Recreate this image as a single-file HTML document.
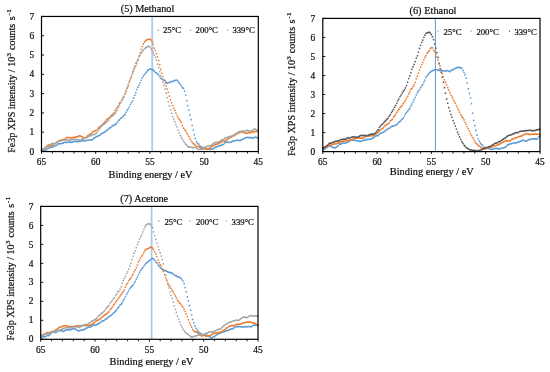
<!DOCTYPE html>
<html lang="en"><head><meta charset="utf-8"><title>Fe3p XPS spectra</title>
<style>html,body{margin:0;padding:0;background:#fff;}body{width:550px;height:372px;overflow:hidden;}svg{display:block;}text{stroke:#111;stroke-width:.22px;}</style>
</head><body>
<svg width="550" height="372" viewBox="0 0 550 372" font-family="'Liberation Serif', serif" fill="#111">
<rect width="550" height="372" fill="#fff"/>
<g>
<line x1="152.2" x2="152.2" y1="16.45" y2="151.5" stroke="#a8cbea" stroke-width="1.8"/>
<path d="M41.5 150.2h0M42.6 150.4h0M43.7 150.0h0M44.8 149.8h0M45.8 150.1h0M46.9 149.0h0M48.0 148.4h0M49.1 148.0h0M50.2 147.3h0M51.3 147.2h0M52.3 147.1h0M53.4 146.4h0M54.5 146.1h0M55.6 145.6h0M56.7 145.3h0M57.8 144.2h0M58.8 143.6h0M59.9 143.8h0M61.0 143.6h0M62.1 143.4h0M63.2 143.2h0M64.3 142.4h0M65.3 142.3h0M66.4 142.3h0M67.5 142.2h0M68.6 142.3h0M69.7 141.9h0M70.8 142.4h0M71.9 142.2h0M72.9 141.9h0M74.0 141.6h0M75.1 141.0h0M76.2 141.6h0M77.3 141.5h0M78.4 141.6h0M79.4 141.2h0M80.5 141.3h0M81.6 140.5h0M82.7 140.8h0M83.8 140.7h0M84.9 140.9h0M85.9 140.8h0M87.0 140.3h0M88.1 140.0h0M89.2 140.0h0M90.3 139.9h0M91.4 139.9h0M92.4 139.5h0M93.5 138.6h0M94.6 137.8h0M95.7 137.2h0M96.8 136.5h0M97.9 135.9h0M99.0 135.7h0M100.0 135.2h0M101.1 134.2h0M102.2 133.0h0M103.3 132.8h0M104.4 132.2h0M105.5 131.5h0M106.5 130.3h0M107.6 130.0h0M108.7 128.7h0M109.8 127.8h0M110.9 127.5h0M112.0 126.2h0M113.0 125.6h0M114.1 125.1h0M115.2 124.3h0M116.3 123.7h0M117.4 122.2h0M118.5 120.3h0M119.5 119.8h0M120.6 118.3h0M121.7 117.8h0M122.8 116.6h0M123.9 115.5h0M125.0 114.4h0M126.1 112.3h0M127.1 110.4h0M128.2 108.8h0M129.3 106.8h0M130.4 104.4h0M131.5 102.6h0M132.6 100.8h0M133.6 98.2h0M134.7 95.2h0M135.8 92.6h0M136.9 89.6h0M138.0 87.1h0M139.1 85.0h0M140.1 82.8h0M141.2 80.3h0M142.3 77.9h0M143.4 76.0h0M144.5 74.5h0M145.6 73.0h0M146.6 71.8h0M147.7 70.4h0M148.8 69.5h0M149.9 68.9h0M151.0 69.1h0M152.1 69.5h0M153.2 69.9h0M154.2 71.2h0M155.3 72.3h0M156.4 72.9h0M157.5 74.1h0M158.6 74.7h0M159.7 76.6h0M160.7 78.2h0M161.8 78.9h0M162.9 79.6h0M164.0 80.3h0M165.1 80.6h0M166.2 82.0h0M167.2 83.3h0M168.3 82.7h0M169.4 82.6h0M170.5 81.5h0M171.6 81.6h0M172.7 81.6h0M173.7 80.7h0M174.8 80.7h0M175.9 80.1h0M177.0 80.1h0M178.1 81.5h0M179.2 82.8h0M180.3 84.3h0M181.3 85.8h0M182.4 87.5h0M183.5 88.3h0M184.6 91.0h0M185.7 95.1h0M186.8 100.5h0M187.8 105.5h0M188.9 110.0h0M190.0 114.9h0M191.1 119.7h0M192.2 125.3h0M193.3 130.1h0M194.3 134.7h0M195.4 138.4h0M196.5 141.7h0M197.6 143.3h0M198.7 144.2h0M199.8 145.9h0M200.8 146.7h0M201.9 147.5h0M203.0 147.6h0M204.1 148.2h0M205.2 148.9h0M206.3 148.7h0M207.4 148.9h0M208.4 148.8h0M209.5 149.3h0M210.6 148.9h0M211.7 149.1h0M212.8 148.8h0M213.9 148.4h0M214.9 147.7h0M216.0 146.9h0M217.1 146.7h0M218.2 146.1h0M219.3 145.9h0M220.4 145.5h0M221.4 145.2h0M222.5 144.7h0M223.6 144.3h0M224.7 142.9h0M225.8 142.2h0M226.9 142.2h0M227.9 142.2h0M229.0 142.4h0M230.1 142.3h0M231.2 142.1h0M232.3 141.3h0M233.4 141.1h0M234.5 140.8h0M235.5 140.6h0M236.6 140.3h0M237.7 140.0h0M238.8 140.3h0M239.9 140.7h0M241.0 140.1h0M242.0 139.6h0M243.1 139.0h0M244.2 138.4h0M245.3 137.8h0M246.4 137.5h0M247.5 137.3h0M248.5 137.7h0M249.6 137.4h0M250.7 137.9h0M251.8 137.6h0M252.9 138.3h0M254.0 137.4h0M255.0 137.0h0M256.1 137.3h0M257.2 137.7h0M258.3 138.6h0" stroke="#5b9bd5" stroke-width="1.75" stroke-linecap="round" fill="none"/>
<path d="M41.5 150.6h0M42.6 149.8h0M43.7 149.1h0M44.8 148.2h0M45.8 147.4h0M46.9 146.5h0M48.0 146.4h0M49.1 146.0h0M50.2 145.6h0M51.3 145.5h0M52.3 145.2h0M53.4 144.5h0M54.5 143.8h0M55.6 143.2h0M56.7 142.1h0M57.8 141.5h0M58.8 140.8h0M59.9 140.4h0M61.0 140.0h0M62.1 139.8h0M63.2 139.4h0M64.3 139.5h0M65.3 138.7h0M66.4 137.8h0M67.5 137.3h0M68.6 137.3h0M69.7 137.8h0M70.8 137.6h0M71.9 137.8h0M72.9 137.3h0M74.0 137.4h0M75.1 137.2h0M76.2 136.8h0M77.3 136.9h0M78.4 136.0h0M79.4 135.9h0M80.5 136.0h0M81.6 136.3h0M82.7 137.0h0M83.8 138.1h0M84.9 137.9h0M85.9 137.6h0M87.0 136.4h0M88.1 135.3h0M89.2 134.8h0M90.3 134.2h0M91.4 133.5h0M92.4 132.2h0M93.5 131.4h0M94.6 130.9h0M95.7 130.5h0M96.8 130.1h0M97.9 128.3h0M99.0 127.6h0M100.0 126.6h0M101.1 125.5h0M102.2 125.0h0M103.3 123.4h0M104.4 122.3h0M105.5 121.0h0M106.5 119.6h0M107.6 118.8h0M108.7 118.3h0M109.8 117.0h0M110.9 115.8h0M112.0 114.9h0M113.0 114.0h0M114.1 112.5h0M115.2 110.4h0M116.3 108.7h0M117.4 107.1h0M118.5 105.7h0M119.5 103.2h0M120.6 102.3h0M121.7 100.1h0M122.8 97.8h0M123.9 96.4h0M125.0 94.1h0M126.1 91.9h0M127.1 88.6h0M128.2 86.1h0M129.3 82.6h0M130.4 79.8h0M131.5 77.0h0M132.6 73.4h0M133.6 70.9h0M134.7 68.2h0M135.8 65.9h0M136.9 63.6h0M138.0 60.2h0M139.1 55.8h0M140.1 52.5h0M141.2 49.3h0M142.3 46.4h0M143.4 43.9h0M144.5 41.8h0M145.6 40.8h0M146.6 39.8h0M147.7 39.3h0M148.8 39.4h0M149.9 39.1h0M151.0 39.9h0M152.1 41.7h0M153.2 44.1h0M154.2 48.2h0M155.3 50.5h0M156.4 53.5h0M157.5 56.7h0M158.6 60.5h0M159.7 64.5h0M160.7 69.4h0M161.8 73.3h0M162.9 76.5h0M164.0 80.1h0M165.1 83.0h0M166.2 86.1h0M167.2 89.1h0M168.3 92.3h0M169.4 96.1h0M170.5 99.5h0M171.6 102.6h0M172.7 105.6h0M173.7 108.3h0M174.8 110.3h0M175.9 113.2h0M177.0 115.6h0M178.1 117.7h0M179.2 119.3h0M180.3 120.9h0M181.3 122.6h0M182.4 125.6h0M183.5 128.1h0M184.6 129.7h0M185.7 131.1h0M186.8 133.0h0M187.8 134.5h0M188.9 136.6h0M190.0 138.7h0M191.1 140.5h0M192.2 142.3h0M193.3 143.5h0M194.3 144.1h0M195.4 145.2h0M196.5 146.5h0M197.6 146.4h0M198.7 146.7h0M199.8 147.1h0M200.8 148.1h0M201.9 149.0h0M203.0 148.9h0M204.1 148.7h0M205.2 148.5h0M206.3 148.9h0M207.4 149.3h0M208.4 148.7h0M209.5 148.4h0M210.6 147.4h0M211.7 146.6h0M212.8 145.9h0M213.9 145.3h0M214.9 144.7h0M216.0 144.0h0M217.1 144.1h0M218.2 143.5h0M219.3 143.1h0M220.4 142.5h0M221.4 141.6h0M222.5 141.5h0M223.6 140.9h0M224.7 141.1h0M225.8 140.5h0M226.9 139.9h0M227.9 138.8h0M229.0 138.3h0M230.1 137.3h0M231.2 137.1h0M232.3 136.3h0M233.4 135.7h0M234.5 135.4h0M235.5 134.5h0M236.6 134.1h0M237.7 133.1h0M238.8 132.8h0M239.9 132.7h0M241.0 131.7h0M242.0 131.9h0M243.1 132.3h0M244.2 132.6h0M245.3 133.1h0M246.4 133.0h0M247.5 133.3h0M248.5 132.7h0M249.6 132.6h0M250.7 132.7h0M251.8 132.3h0M252.9 131.9h0M254.0 132.0h0M255.0 131.6h0M256.1 131.4h0M257.2 131.3h0M258.3 131.0h0" stroke="#ed7d31" stroke-width="1.75" stroke-linecap="round" fill="none"/>
<path d="M41.5 150.6h0M42.6 149.3h0M43.7 148.7h0M44.8 148.0h0M45.8 146.8h0M46.9 145.9h0M48.0 145.1h0M49.1 144.6h0M50.2 144.6h0M51.3 143.8h0M52.3 143.4h0M53.4 143.3h0M54.5 143.8h0M55.6 143.2h0M56.7 142.4h0M57.8 141.9h0M58.8 141.2h0M59.9 140.8h0M61.0 140.9h0M62.1 140.4h0M63.2 140.1h0M64.3 139.9h0M65.3 139.9h0M66.4 140.1h0M67.5 139.8h0M68.6 140.0h0M69.7 140.0h0M70.8 139.6h0M71.9 139.8h0M72.9 139.4h0M74.0 139.1h0M75.1 139.4h0M76.2 139.7h0M77.3 139.7h0M78.4 139.7h0M79.4 140.1h0M80.5 140.0h0M81.6 139.2h0M82.7 138.9h0M83.8 138.8h0M84.9 138.3h0M85.9 137.6h0M87.0 137.4h0M88.1 136.6h0M89.2 136.2h0M90.3 135.5h0M91.4 135.4h0M92.4 134.7h0M93.5 134.3h0M94.6 134.6h0M95.7 133.7h0M96.8 132.8h0M97.9 131.1h0M99.0 129.4h0M100.0 128.0h0M101.1 126.7h0M102.2 125.4h0M103.3 124.6h0M104.4 123.8h0M105.5 123.1h0M106.5 122.1h0M107.6 121.1h0M108.7 119.9h0M109.8 118.2h0M110.9 116.9h0M112.0 116.1h0M113.0 115.5h0M114.1 114.4h0M115.2 113.6h0M116.3 111.8h0M117.4 110.0h0M118.5 107.4h0M119.5 104.9h0M120.6 102.8h0M121.7 100.7h0M122.8 99.1h0M123.9 96.8h0M125.0 93.3h0M126.1 90.4h0M127.1 87.4h0M128.2 84.5h0M129.3 81.2h0M130.4 78.0h0M131.5 75.1h0M132.6 71.9h0M133.6 68.9h0M134.7 66.3h0M135.8 63.2h0M136.9 61.5h0M138.0 59.2h0M139.1 56.8h0M140.1 55.0h0M141.2 53.2h0M142.3 51.7h0M143.4 50.2h0M144.5 48.6h0M145.6 47.9h0M146.6 46.9h0M147.7 46.5h0M148.8 46.1h0M149.9 47.0h0M151.0 48.9h0M152.1 50.7h0M153.2 52.9h0M154.2 55.0h0M155.3 57.3h0M156.4 60.1h0M157.5 64.2h0M158.6 67.4h0M159.7 71.5h0M160.7 75.5h0M161.8 79.0h0M162.9 82.1h0M164.0 85.2h0M165.1 89.1h0M166.2 93.2h0M167.2 97.6h0M168.3 101.5h0M169.4 105.9h0M170.5 109.8h0M171.6 113.3h0M172.7 116.6h0M173.7 119.1h0M174.8 121.7h0M175.9 124.3h0M177.0 126.8h0M178.1 130.0h0M179.2 133.1h0M180.3 135.4h0M181.3 137.4h0M182.4 139.2h0M183.5 141.0h0M184.6 142.6h0M185.7 144.2h0M186.8 145.3h0M187.8 146.3h0M188.9 147.2h0M190.0 147.1h0M191.1 147.2h0M192.2 147.5h0M193.3 147.4h0M194.3 147.3h0M195.4 147.7h0M196.5 148.0h0M197.6 148.8h0M198.7 149.3h0M199.8 149.5h0M200.8 149.1h0M201.9 149.0h0M203.0 148.5h0M204.1 148.4h0M205.2 147.2h0M206.3 146.5h0M207.4 146.3h0M208.4 146.2h0M209.5 145.8h0M210.6 145.6h0M211.7 144.9h0M212.8 144.0h0M213.9 143.2h0M214.9 142.4h0M216.0 142.6h0M217.1 142.0h0M218.2 142.3h0M219.3 141.7h0M220.4 141.0h0M221.4 140.0h0M222.5 139.6h0M223.6 139.4h0M224.7 138.3h0M225.8 137.9h0M226.9 137.6h0M227.9 137.0h0M229.0 136.6h0M230.1 136.3h0M231.2 136.2h0M232.3 136.4h0M233.4 135.0h0M234.5 134.7h0M235.5 134.0h0M236.6 133.2h0M237.7 132.8h0M238.8 131.7h0M239.9 131.3h0M241.0 131.3h0M242.0 131.2h0M243.1 131.2h0M244.2 131.1h0M245.3 130.7h0M246.4 130.8h0M247.5 130.3h0M248.5 130.9h0M249.6 131.1h0M250.7 130.9h0M251.8 131.1h0M252.9 130.1h0M254.0 129.2h0M255.0 129.2h0M256.1 129.7h0M257.2 130.2h0M258.3 130.9h0" stroke="#a5a5a5" stroke-width="1.75" stroke-linecap="round" fill="none"/>
<rect x="41.5" y="16.45" width="216.8" height="135.1" fill="none" stroke="#000" stroke-width="1.2"/>
<path d="M41.50 151.5v2.4M52.34 151.5v2.0M63.18 151.5v2.0M74.02 151.5v2.0M84.86 151.5v2.0M95.70 151.5v2.4M106.54 151.5v2.0M117.38 151.5v2.0M128.22 151.5v2.0M139.06 151.5v2.0M149.90 151.5v2.4M160.74 151.5v2.0M171.58 151.5v2.0M182.42 151.5v2.0M193.26 151.5v2.0M204.10 151.5v2.4M214.94 151.5v2.0M225.78 151.5v2.0M236.62 151.5v2.0M247.46 151.5v2.0M258.30 151.5v2.4M41.5 151.50h2.6M41.5 132.21h2.6M41.5 112.91h2.6M41.5 93.62h2.6M41.5 74.33h2.6M41.5 55.04h2.6M41.5 35.74h2.6M41.5 16.45h2.6" stroke="#000" stroke-width="0.9" fill="none"/>
<text x="41.5" y="164.8" font-size="9.4" text-anchor="middle">65</text>
<text x="95.7" y="164.8" font-size="9.4" text-anchor="middle">60</text>
<text x="149.9" y="164.8" font-size="9.4" text-anchor="middle">55</text>
<text x="204.1" y="164.8" font-size="9.4" text-anchor="middle">50</text>
<text x="258.3" y="164.8" font-size="9.4" text-anchor="middle">45</text>
<text x="34.2" y="154.6" font-size="9.4" text-anchor="end">0</text>
<text x="34.2" y="135.3" font-size="9.4" text-anchor="end">1</text>
<text x="34.2" y="116.0" font-size="9.4" text-anchor="end">2</text>
<text x="34.2" y="96.7" font-size="9.4" text-anchor="end">3</text>
<text x="34.2" y="77.4" font-size="9.4" text-anchor="end">4</text>
<text x="34.2" y="58.1" font-size="9.4" text-anchor="end">5</text>
<text x="34.2" y="38.8" font-size="9.4" text-anchor="end">6</text>
<text x="34.2" y="19.5" font-size="9.4" text-anchor="end">7</text>
<text x="147.5" y="11.7" font-size="10.2" text-anchor="middle">(5) Methanol</text>
<text x="150.6" y="178.4" font-size="10.35" text-anchor="middle">Binding energy / eV</text>
<text transform="translate(14.9 152.8) rotate(-90)" font-size="10.05">Fe3p XPS intensity / 10<tspan font-size="7.0" dy="-3.9" dx="0.3">3</tspan><tspan dy="3.9" dx="0.5"> counts</tspan><tspan dx="1"> s</tspan><tspan font-size="7.0" dy="-3.9" dx="0.7">-</tspan><tspan font-size="7.0" dx="0.5">1</tspan></text>
<circle cx="158.2" cy="30.2" r="0.75" fill="#5b9bd5"/>
<text x="163.0" y="32.7" font-size="8.7">25°C</text>
<circle cx="190.6" cy="30.2" r="0.75" fill="#ed7d31"/>
<text x="195.6" y="32.7" font-size="8.7">200°C</text>
<circle cx="227.6" cy="30.2" r="0.75" fill="#a5a5a5"/>
<text x="232.4" y="32.7" font-size="8.7">339°C</text>
</g>
<g>
<line x1="435.4" x2="435.4" y1="18.4" y2="151.6" stroke="#5b9bd5" stroke-width="1.0"/>
<path d="M323.1 150.2h0M324.2 149.2h0M325.3 148.5h0M326.4 147.5h0M327.4 147.1h0M328.5 146.2h0M329.6 146.3h0M330.7 146.2h0M331.8 146.8h0M332.9 147.2h0M333.9 147.8h0M335.0 147.9h0M336.1 147.2h0M337.2 146.5h0M338.3 145.5h0M339.4 144.2h0M340.4 144.1h0M341.5 143.9h0M342.6 143.2h0M343.7 142.9h0M344.8 143.3h0M345.9 142.7h0M346.9 142.4h0M348.0 142.0h0M349.1 141.5h0M350.2 140.3h0M351.3 140.3h0M352.4 140.0h0M353.4 140.1h0M354.5 140.3h0M355.6 140.3h0M356.7 140.5h0M357.8 141.0h0M358.9 140.9h0M359.9 141.4h0M361.0 141.3h0M362.1 140.6h0M363.2 140.6h0M364.3 140.1h0M365.4 140.0h0M366.4 139.6h0M367.5 139.3h0M368.6 139.2h0M369.7 139.3h0M370.8 139.1h0M371.9 138.6h0M372.9 138.0h0M374.0 137.4h0M375.1 136.4h0M376.2 135.7h0M377.3 135.8h0M378.4 135.4h0M379.4 134.0h0M380.5 133.3h0M381.6 132.9h0M382.7 132.4h0M383.8 132.0h0M384.9 131.2h0M385.9 130.0h0M387.0 129.7h0M388.1 128.6h0M389.2 128.3h0M390.3 127.5h0M391.4 126.5h0M392.4 126.1h0M393.5 126.1h0M394.6 125.4h0M395.7 125.3h0M396.8 124.5h0M397.9 123.4h0M398.9 122.2h0M400.0 121.6h0M401.1 120.3h0M402.2 119.2h0M403.3 118.0h0M404.4 116.1h0M405.4 113.9h0M406.5 112.6h0M407.6 110.9h0M408.7 109.5h0M409.8 108.4h0M410.9 106.2h0M411.9 104.1h0M413.0 101.9h0M414.1 99.7h0M415.2 97.4h0M416.3 94.9h0M417.4 92.7h0M418.4 91.0h0M419.5 89.5h0M420.6 87.7h0M421.7 85.8h0M422.8 84.4h0M423.9 82.1h0M424.9 80.0h0M426.0 77.4h0M427.1 75.8h0M428.2 74.4h0M429.3 73.0h0M430.4 72.1h0M431.4 71.4h0M432.5 70.7h0M433.6 70.3h0M434.7 69.6h0M435.8 69.5h0M436.9 69.5h0M438.0 70.1h0M439.0 70.3h0M440.1 70.6h0M441.2 70.6h0M442.3 70.7h0M443.4 70.8h0M444.5 70.9h0M445.5 71.0h0M446.6 70.6h0M447.7 70.7h0M448.8 71.1h0M449.9 71.7h0M451.0 70.6h0M452.0 69.9h0M453.1 69.6h0M454.2 68.8h0M455.3 68.3h0M456.4 67.9h0M457.5 67.3h0M458.5 67.4h0M459.6 67.4h0M460.7 67.9h0M461.8 68.2h0M462.9 70.4h0M464.0 72.3h0M465.0 74.7h0M466.1 78.1h0M467.2 83.0h0M468.3 88.7h0M469.4 93.3h0M470.5 98.1h0M471.5 103.6h0M472.6 113.2h0M473.7 120.3h0M474.8 125.5h0M475.9 130.4h0M477.0 135.2h0M478.0 138.8h0M479.1 140.9h0M480.2 142.8h0M481.3 144.0h0M482.4 145.2h0M483.5 147.0h0M484.5 147.1h0M485.6 147.6h0M486.7 147.7h0M487.8 148.0h0M488.9 148.3h0M490.0 149.0h0M491.0 149.2h0M492.1 149.3h0M493.2 149.1h0M494.3 148.7h0M495.4 148.4h0M496.5 148.4h0M497.5 148.7h0M498.6 149.0h0M499.7 148.5h0M500.8 148.4h0M501.9 148.3h0M503.0 147.9h0M504.0 147.8h0M505.1 147.2h0M506.2 146.7h0M507.3 145.2h0M508.4 144.7h0M509.5 144.4h0M510.5 143.7h0M511.6 143.6h0M512.7 143.3h0M513.8 142.7h0M514.9 143.0h0M516.0 142.9h0M517.0 142.6h0M518.1 142.2h0M519.2 141.9h0M520.3 141.0h0M521.4 141.0h0M522.5 140.3h0M523.5 140.3h0M524.6 140.5h0M525.7 141.1h0M526.8 141.1h0M527.9 140.1h0M529.0 139.5h0M530.0 139.4h0M531.1 139.1h0M532.2 138.9h0M533.3 139.2h0M534.4 138.6h0M535.5 139.1h0M536.5 138.9h0M537.6 138.8h0M538.7 137.1h0M539.8 136.3h0" stroke="#5b9bd5" stroke-width="1.75" stroke-linecap="round" fill="none"/>
<path d="M323.1 148.4h0M324.2 147.6h0M325.3 146.8h0M326.4 146.8h0M327.4 146.6h0M328.5 146.0h0M329.6 145.2h0M330.7 145.0h0M331.8 144.7h0M332.9 144.2h0M333.9 144.1h0M335.0 143.6h0M336.1 144.0h0M337.2 143.1h0M338.3 143.2h0M339.4 142.6h0M340.4 142.0h0M341.5 141.7h0M342.6 141.2h0M343.7 141.2h0M344.8 141.0h0M345.9 140.4h0M346.9 140.7h0M348.0 140.4h0M349.1 140.0h0M350.2 140.0h0M351.3 139.9h0M352.4 139.6h0M353.4 138.9h0M354.5 138.5h0M355.6 138.5h0M356.7 137.9h0M357.8 138.1h0M358.9 137.9h0M359.9 138.3h0M361.0 138.1h0M362.1 138.1h0M363.2 138.0h0M364.3 137.5h0M365.4 136.7h0M366.4 136.0h0M367.5 135.9h0M368.6 136.0h0M369.7 135.8h0M370.8 135.4h0M371.9 136.0h0M372.9 135.4h0M374.0 135.2h0M375.1 134.0h0M376.2 133.7h0M377.3 132.9h0M378.4 132.2h0M379.4 130.9h0M380.5 129.8h0M381.6 128.8h0M382.7 128.4h0M383.8 127.3h0M384.9 125.5h0M385.9 125.3h0M387.0 124.6h0M388.1 123.5h0M389.2 123.1h0M390.3 121.0h0M391.4 120.1h0M392.4 119.0h0M393.5 116.9h0M394.6 115.8h0M395.7 114.3h0M396.8 112.4h0M397.9 110.7h0M398.9 109.2h0M400.0 107.6h0M401.1 106.6h0M402.2 105.5h0M403.3 103.7h0M404.4 102.0h0M405.4 100.4h0M406.5 98.4h0M407.6 96.3h0M408.7 93.9h0M409.8 91.9h0M410.9 89.4h0M411.9 88.4h0M413.0 86.6h0M414.1 84.8h0M415.2 82.4h0M416.3 78.7h0M417.4 76.2h0M418.4 73.2h0M419.5 69.8h0M420.6 67.2h0M421.7 64.6h0M422.8 62.6h0M423.9 59.8h0M424.9 57.4h0M426.0 55.7h0M427.1 53.3h0M428.2 51.9h0M429.3 50.7h0M430.4 48.7h0M431.4 47.7h0M432.5 47.8h0M433.6 50.1h0M434.7 51.7h0M435.8 54.3h0M436.9 56.8h0M438.0 60.0h0M439.0 63.0h0M440.1 65.8h0M441.2 69.5h0M442.3 73.5h0M443.4 76.6h0M444.5 79.8h0M445.5 82.4h0M446.6 84.9h0M447.7 87.7h0M448.8 90.0h0M449.9 92.7h0M451.0 95.0h0M452.0 97.0h0M453.1 99.1h0M454.2 101.2h0M455.3 103.2h0M456.4 105.5h0M457.5 107.7h0M458.5 109.9h0M459.6 112.2h0M460.7 114.7h0M461.8 116.4h0M462.9 117.9h0M464.0 119.8h0M465.0 122.2h0M466.1 124.2h0M467.2 126.5h0M468.3 128.7h0M469.4 131.1h0M470.5 133.6h0M471.5 135.6h0M472.6 137.5h0M473.7 139.4h0M474.8 141.3h0M475.9 143.0h0M477.0 144.1h0M478.0 145.3h0M479.1 146.0h0M480.2 146.6h0M481.3 147.8h0M482.4 148.2h0M483.5 148.5h0M484.5 148.6h0M485.6 148.7h0M486.7 148.1h0M487.8 148.3h0M488.9 148.3h0M490.0 147.4h0M491.0 147.4h0M492.1 146.5h0M493.2 146.3h0M494.3 146.0h0M495.4 145.7h0M496.5 145.6h0M497.5 144.9h0M498.6 144.5h0M499.7 144.2h0M500.8 143.3h0M501.9 142.9h0M503.0 142.2h0M504.0 141.5h0M505.1 140.9h0M506.2 140.7h0M507.3 141.0h0M508.4 140.7h0M509.5 141.3h0M510.5 140.6h0M511.6 139.4h0M512.7 139.0h0M513.8 138.3h0M514.9 138.3h0M516.0 137.8h0M517.0 137.5h0M518.1 136.8h0M519.2 136.5h0M520.3 136.2h0M521.4 136.0h0M522.5 135.4h0M523.5 134.8h0M524.6 134.3h0M525.7 133.9h0M526.8 133.8h0M527.9 133.7h0M529.0 134.6h0M530.0 134.1h0M531.1 134.4h0M532.2 134.1h0M533.3 134.2h0M534.4 134.1h0M535.5 133.8h0M536.5 134.3h0M537.6 134.0h0M538.7 134.2h0M539.8 134.9h0" stroke="#ed7d31" stroke-width="1.75" stroke-linecap="round" fill="none"/>
<path d="M323.1 147.7h0M324.2 147.5h0M325.3 146.9h0M326.4 145.8h0M327.4 145.4h0M328.5 144.2h0M329.6 143.1h0M330.7 143.1h0M331.8 142.8h0M332.9 142.2h0M333.9 142.0h0M335.0 141.6h0M336.1 141.2h0M337.2 141.2h0M338.3 140.9h0M339.4 140.7h0M340.4 139.7h0M341.5 139.6h0M342.6 139.4h0M343.7 139.2h0M344.8 139.0h0M345.9 139.0h0M346.9 138.4h0M348.0 137.6h0M349.1 138.0h0M350.2 137.8h0M351.3 137.4h0M352.4 136.9h0M353.4 137.1h0M354.5 136.6h0M355.6 137.3h0M356.7 137.1h0M357.8 137.2h0M358.9 136.7h0M359.9 135.8h0M361.0 135.4h0M362.1 135.7h0M363.2 135.2h0M364.3 135.8h0M365.4 135.3h0M366.4 135.5h0M367.5 135.6h0M368.6 135.2h0M369.7 134.6h0M370.8 134.3h0M371.9 133.9h0M372.9 134.2h0M374.0 133.8h0M375.1 133.3h0M376.2 132.0h0M377.3 130.6h0M378.4 129.7h0M379.4 127.4h0M380.5 126.0h0M381.6 124.5h0M382.7 124.0h0M383.8 122.6h0M384.9 121.3h0M385.9 120.4h0M387.0 119.2h0M388.1 118.0h0M389.2 116.2h0M390.3 114.5h0M391.4 112.5h0M392.4 111.0h0M393.5 109.4h0M394.6 107.2h0M395.7 105.3h0M396.8 103.1h0M397.9 100.7h0M398.9 98.8h0M400.0 96.5h0M401.1 95.0h0M402.2 93.1h0M403.3 91.4h0M404.4 89.9h0M405.4 87.9h0M406.5 85.5h0M407.6 82.1h0M408.7 78.6h0M409.8 75.8h0M410.9 72.8h0M411.9 69.3h0M413.0 66.9h0M414.1 64.4h0M415.2 61.6h0M416.3 58.1h0M417.4 55.8h0M418.4 52.0h0M419.5 48.4h0M420.6 45.3h0M421.7 42.3h0M422.8 40.0h0M423.9 37.3h0M424.9 35.2h0M426.0 33.3h0M427.1 32.8h0M428.2 32.6h0M429.3 32.0h0M430.4 33.0h0M431.4 34.7h0M432.5 36.8h0M433.6 39.7h0M434.7 43.8h0M435.8 48.2h0M436.9 52.7h0M438.0 57.6h0M439.0 63.8h0M440.1 68.7h0M441.2 72.3h0M442.3 77.1h0M443.4 82.2h0M444.5 87.7h0M445.5 93.2h0M446.6 98.9h0M447.7 103.3h0M448.8 107.7h0M449.9 111.1h0M451.0 114.6h0M452.0 117.1h0M453.1 120.6h0M454.2 123.3h0M455.3 126.1h0M456.4 129.0h0M457.5 132.2h0M458.5 134.3h0M459.6 136.9h0M460.7 139.4h0M461.8 141.5h0M462.9 143.2h0M464.0 145.0h0M465.0 146.2h0M466.1 147.5h0M467.2 148.1h0M468.3 148.7h0M469.4 149.7h0M470.5 149.9h0M471.5 149.8h0M472.6 150.5h0M473.7 150.2h0M474.8 150.5h0M475.9 150.7h0M477.0 150.7h0M478.0 150.7h0M479.1 150.6h0M480.2 150.1h0M481.3 149.5h0M482.4 149.6h0M483.5 148.7h0M484.5 148.6h0M485.6 148.3h0M486.7 147.7h0M487.8 147.3h0M488.9 146.5h0M490.0 146.5h0M491.0 146.1h0M492.1 145.1h0M493.2 144.5h0M494.3 143.8h0M495.4 143.0h0M496.5 143.0h0M497.5 142.7h0M498.6 141.7h0M499.7 141.8h0M500.8 140.8h0M501.9 140.1h0M503.0 139.4h0M504.0 138.5h0M505.1 138.2h0M506.2 137.0h0M507.3 136.2h0M508.4 135.5h0M509.5 135.1h0M510.5 135.0h0M511.6 134.5h0M512.7 134.0h0M513.8 133.9h0M514.9 132.9h0M516.0 132.7h0M517.0 132.5h0M518.1 132.6h0M519.2 131.5h0M520.3 131.3h0M521.4 131.2h0M522.5 131.0h0M523.5 131.0h0M524.6 130.7h0M525.7 130.9h0M526.8 130.6h0M527.9 130.3h0M529.0 130.4h0M530.0 130.4h0M531.1 130.2h0M532.2 131.0h0M533.3 130.7h0M534.4 130.3h0M535.5 130.5h0M536.5 129.8h0M537.6 129.8h0M538.7 129.4h0M539.8 129.4h0" stroke="#595959" stroke-width="1.75" stroke-linecap="round" fill="none"/>
<rect x="322.8" y="18.4" width="217.2" height="133.2" fill="none" stroke="#000" stroke-width="1.2"/>
<path d="M322.80 151.6v2.4M333.66 151.6v2.0M344.52 151.6v2.0M355.38 151.6v2.0M366.24 151.6v2.0M377.10 151.6v2.4M387.96 151.6v2.0M398.82 151.6v2.0M409.68 151.6v2.0M420.54 151.6v2.0M431.40 151.6v2.4M442.26 151.6v2.0M453.12 151.6v2.0M463.98 151.6v2.0M474.84 151.6v2.0M485.70 151.6v2.4M496.56 151.6v2.0M507.42 151.6v2.0M518.28 151.6v2.0M529.14 151.6v2.0M540.00 151.6v2.4M322.8 151.60h2.6M322.8 132.57h2.6M322.8 113.54h2.6M322.8 94.51h2.6M322.8 75.49h2.6M322.8 56.46h2.6M322.8 37.43h2.6M322.8 18.40h2.6" stroke="#000" stroke-width="0.9" fill="none"/>
<text x="322.8" y="165.0" font-size="9.4" text-anchor="middle">65</text>
<text x="377.1" y="165.0" font-size="9.4" text-anchor="middle">60</text>
<text x="431.4" y="165.0" font-size="9.4" text-anchor="middle">55</text>
<text x="485.7" y="165.0" font-size="9.4" text-anchor="middle">50</text>
<text x="540.0" y="165.0" font-size="9.4" text-anchor="middle">45</text>
<text x="315.2" y="154.7" font-size="9.4" text-anchor="end">0</text>
<text x="315.2" y="135.7" font-size="9.4" text-anchor="end">1</text>
<text x="315.2" y="116.6" font-size="9.4" text-anchor="end">2</text>
<text x="315.2" y="97.6" font-size="9.4" text-anchor="end">3</text>
<text x="315.2" y="78.6" font-size="9.4" text-anchor="end">4</text>
<text x="315.2" y="59.6" font-size="9.4" text-anchor="end">5</text>
<text x="315.2" y="40.5" font-size="9.4" text-anchor="end">6</text>
<text x="315.2" y="21.5" font-size="9.4" text-anchor="end">7</text>
<text x="433" y="14.0" font-size="10.4" text-anchor="middle">(6) Ethanol</text>
<text x="431.8" y="175.2" font-size="10.35" text-anchor="middle">Binding energy / eV</text>
<text transform="translate(294.9 156.0) rotate(-90)" font-size="10.05">Fe3p XPS intensity / 10<tspan font-size="7.0" dy="-3.9" dx="0.3">3</tspan><tspan dy="3.9" dx="0.5"> counts</tspan><tspan dx="1"> s</tspan><tspan font-size="7.0" dy="-3.9" dx="0.7">-</tspan><tspan font-size="7.0" dx="0.5">1</tspan></text>
<circle cx="438" cy="31" r="0.75" fill="#5b9bd5"/>
<text x="443.6" y="34.6" font-size="8.7">25°C</text>
<circle cx="471" cy="31" r="0.75" fill="#ed7d31"/>
<text x="476.4" y="34.6" font-size="8.7">200°C</text>
<circle cx="509.5" cy="31" r="0.75" fill="#595959"/>
<text x="514.4" y="34.6" font-size="8.7">339°C</text>
</g>
<g>
<line x1="151.6" x2="151.6" y1="206.4" y2="339.3" stroke="#a8cbea" stroke-width="1.8"/>
<path d="M40.7 337.3h0M41.8 337.4h0M42.9 336.6h0M44.0 337.1h0M45.0 336.6h0M46.1 336.3h0M47.2 335.4h0M48.3 335.6h0M49.4 335.1h0M50.5 334.1h0M51.6 332.6h0M52.6 331.7h0M53.7 331.8h0M54.8 332.3h0M55.9 332.5h0M57.0 331.5h0M58.1 331.1h0M59.2 330.1h0M60.2 330.5h0M61.3 330.5h0M62.4 331.2h0M63.5 331.4h0M64.6 330.5h0M65.7 330.2h0M66.8 329.9h0M67.8 329.7h0M68.9 330.0h0M70.0 329.8h0M71.1 329.6h0M72.2 328.8h0M73.3 328.9h0M74.4 328.7h0M75.5 328.9h0M76.5 329.9h0M77.6 330.6h0M78.7 331.1h0M79.8 330.4h0M80.9 330.2h0M82.0 330.1h0M83.1 329.5h0M84.1 329.7h0M85.2 328.6h0M86.3 328.4h0M87.4 327.7h0M88.5 327.3h0M89.6 326.8h0M90.7 326.9h0M91.7 326.1h0M92.8 325.5h0M93.9 324.7h0M95.0 325.2h0M96.1 325.1h0M97.2 324.2h0M98.3 323.7h0M99.3 323.4h0M100.4 322.3h0M101.5 321.7h0M102.6 320.5h0M103.7 320.8h0M104.8 319.8h0M105.9 319.2h0M106.9 318.4h0M108.0 317.4h0M109.1 316.6h0M110.2 315.9h0M111.3 315.1h0M112.4 314.0h0M113.5 313.1h0M114.5 312.2h0M115.6 311.0h0M116.7 309.8h0M117.8 308.2h0M118.9 306.9h0M120.0 305.0h0M121.1 304.2h0M122.1 302.7h0M123.2 300.5h0M124.3 299.0h0M125.4 296.8h0M126.5 294.4h0M127.6 292.6h0M128.7 290.6h0M129.8 288.6h0M130.8 287.3h0M131.9 286.2h0M133.0 285.0h0M134.1 283.1h0M135.2 281.4h0M136.3 279.0h0M137.4 276.9h0M138.4 274.5h0M139.5 272.4h0M140.6 270.7h0M141.7 268.9h0M142.8 267.5h0M143.9 266.0h0M145.0 264.5h0M146.0 263.3h0M147.1 262.6h0M148.2 261.5h0M149.3 260.5h0M150.4 260.0h0M151.5 258.6h0M152.6 258.3h0M153.6 258.9h0M154.7 260.4h0M155.8 262.0h0M156.9 263.1h0M158.0 265.0h0M159.1 266.1h0M160.2 267.5h0M161.2 268.5h0M162.3 269.4h0M163.4 269.9h0M164.5 270.5h0M165.6 270.6h0M166.7 271.2h0M167.8 271.8h0M168.8 272.2h0M169.9 272.7h0M171.0 272.5h0M172.1 273.2h0M173.2 273.8h0M174.3 275.0h0M175.4 275.7h0M176.4 275.8h0M177.5 276.7h0M178.6 277.1h0M179.7 277.4h0M180.8 278.1h0M181.9 279.5h0M183.0 281.1h0M184.1 283.6h0M185.1 287.5h0M186.2 291.8h0M187.3 296.8h0M188.4 300.8h0M189.5 305.6h0M190.6 310.2h0M191.7 314.8h0M192.7 319.4h0M193.8 322.9h0M194.9 325.9h0M196.0 328.2h0M197.1 329.9h0M198.2 331.5h0M199.3 332.5h0M200.3 333.3h0M201.4 334.1h0M202.5 334.7h0M203.6 335.0h0M204.7 334.9h0M205.8 335.2h0M206.9 335.7h0M207.9 335.4h0M209.0 336.3h0M210.1 337.1h0M211.2 337.7h0M212.3 337.6h0M213.4 336.7h0M214.5 336.5h0M215.5 335.7h0M216.6 334.9h0M217.7 334.0h0M218.8 333.7h0M219.9 333.2h0M221.0 332.8h0M222.1 332.1h0M223.1 331.8h0M224.2 331.7h0M225.3 331.0h0M226.4 330.6h0M227.5 330.6h0M228.6 330.2h0M229.7 329.6h0M230.7 329.2h0M231.8 328.9h0M232.9 328.5h0M234.0 327.9h0M235.1 327.0h0M236.2 326.7h0M237.3 326.9h0M238.4 326.3h0M239.4 326.6h0M240.5 326.5h0M241.6 326.9h0M242.7 327.0h0M243.8 326.9h0M244.9 326.7h0M246.0 326.9h0M247.0 326.8h0M248.1 326.4h0M249.2 326.5h0M250.3 326.8h0M251.4 326.7h0M252.5 325.8h0M253.6 325.1h0M254.6 325.1h0M255.7 325.1h0M256.8 325.0h0M257.9 325.6h0" stroke="#5b9bd5" stroke-width="1.75" stroke-linecap="round" fill="none"/>
<path d="M40.7 336.0h0M41.8 335.2h0M42.9 334.7h0M44.0 334.1h0M45.0 333.9h0M46.1 333.2h0M47.2 332.7h0M48.3 332.8h0M49.4 332.6h0M50.5 332.2h0M51.6 332.0h0M52.6 331.7h0M53.7 331.1h0M54.8 330.7h0M55.9 330.0h0M57.0 329.2h0M58.1 328.4h0M59.2 327.1h0M60.2 327.2h0M61.3 326.7h0M62.4 326.5h0M63.5 325.9h0M64.6 325.7h0M65.7 325.5h0M66.8 325.5h0M67.8 326.4h0M68.9 326.3h0M70.0 326.6h0M71.1 326.6h0M72.2 326.9h0M73.3 326.6h0M74.4 326.7h0M75.5 326.5h0M76.5 326.0h0M77.6 325.7h0M78.7 325.8h0M79.8 325.9h0M80.9 325.6h0M82.0 325.8h0M83.1 325.3h0M84.1 325.3h0M85.2 325.6h0M86.3 325.7h0M87.4 325.4h0M88.5 325.3h0M89.6 325.3h0M90.7 325.0h0M91.7 324.4h0M92.8 323.9h0M93.9 322.9h0M95.0 322.0h0M96.1 320.8h0M97.2 320.7h0M98.3 320.0h0M99.3 319.3h0M100.4 318.7h0M101.5 317.7h0M102.6 316.7h0M103.7 315.8h0M104.8 314.9h0M105.9 314.1h0M106.9 313.8h0M108.0 312.4h0M109.1 311.8h0M110.2 309.7h0M111.3 308.4h0M112.4 307.1h0M113.5 305.2h0M114.5 303.9h0M115.6 302.2h0M116.7 300.5h0M117.8 299.0h0M118.9 297.6h0M120.0 296.0h0M121.1 294.7h0M122.1 293.2h0M123.2 291.7h0M124.3 290.0h0M125.4 287.0h0M126.5 284.7h0M127.6 283.0h0M128.7 280.7h0M129.8 279.0h0M130.8 278.0h0M131.9 276.1h0M133.0 274.2h0M134.1 271.8h0M135.2 269.9h0M136.3 267.6h0M137.4 265.1h0M138.4 262.0h0M139.5 260.1h0M140.6 257.8h0M141.7 256.0h0M142.8 254.6h0M143.9 252.4h0M145.0 250.6h0M146.0 249.5h0M147.1 248.8h0M148.2 248.5h0M149.3 247.8h0M150.4 247.4h0M151.5 246.8h0M152.6 248.2h0M153.6 249.7h0M154.7 251.9h0M155.8 254.0h0M156.9 256.6h0M158.0 260.0h0M159.1 262.7h0M160.2 264.6h0M161.2 266.1h0M162.3 268.8h0M163.4 271.4h0M164.5 274.5h0M165.6 277.8h0M166.7 280.7h0M167.8 283.0h0M168.8 284.9h0M169.9 286.4h0M171.0 288.3h0M172.1 290.2h0M173.2 291.9h0M174.3 294.1h0M175.4 295.9h0M176.4 298.2h0M177.5 300.3h0M178.6 301.6h0M179.7 303.1h0M180.8 304.1h0M181.9 305.5h0M183.0 307.2h0M184.1 309.4h0M185.1 311.5h0M186.2 313.8h0M187.3 316.6h0M188.4 319.8h0M189.5 322.6h0M190.6 324.9h0M191.7 327.1h0M192.7 329.4h0M193.8 330.8h0M194.9 331.6h0M196.0 331.9h0M197.1 332.2h0M198.2 333.2h0M199.3 334.8h0M200.3 335.3h0M201.4 335.8h0M202.5 335.8h0M203.6 335.4h0M204.7 335.6h0M205.8 336.0h0M206.9 335.9h0M207.9 336.2h0M209.0 335.8h0M210.1 335.6h0M211.2 334.7h0M212.3 334.3h0M213.4 333.7h0M214.5 333.2h0M215.5 333.2h0M216.6 332.9h0M217.7 332.6h0M218.8 332.5h0M219.9 332.2h0M221.0 332.0h0M222.1 331.6h0M223.1 330.6h0M224.2 329.8h0M225.3 329.4h0M226.4 328.2h0M227.5 327.5h0M228.6 326.7h0M229.7 326.2h0M230.7 326.2h0M231.8 325.4h0M232.9 325.9h0M234.0 325.4h0M235.1 324.9h0M236.2 324.5h0M237.3 324.2h0M238.4 324.3h0M239.4 324.1h0M240.5 323.9h0M241.6 323.4h0M242.7 323.4h0M243.8 322.8h0M244.9 322.6h0M246.0 322.4h0M247.0 322.2h0M248.1 321.9h0M249.2 322.1h0M250.3 321.9h0M251.4 322.3h0M252.5 322.8h0M253.6 322.8h0M254.6 323.1h0M255.7 323.8h0M256.8 324.3h0M257.9 325.2h0" stroke="#ed7d31" stroke-width="1.75" stroke-linecap="round" fill="none"/>
<path d="M40.7 335.5h0M41.8 335.6h0M42.9 334.9h0M44.0 334.8h0M45.0 333.9h0M46.1 333.8h0M47.2 333.5h0M48.3 333.7h0M49.4 333.2h0M50.5 333.0h0M51.6 332.8h0M52.6 332.2h0M53.7 331.5h0M54.8 330.7h0M55.9 331.0h0M57.0 331.0h0M58.1 330.8h0M59.2 330.5h0M60.2 330.1h0M61.3 329.3h0M62.4 329.2h0M63.5 328.5h0M64.6 328.0h0M65.7 327.7h0M66.8 327.7h0M67.8 327.8h0M68.9 327.7h0M70.0 328.1h0M71.1 327.5h0M72.2 327.6h0M73.3 326.6h0M74.4 325.9h0M75.5 325.9h0M76.5 326.8h0M77.6 326.8h0M78.7 327.3h0M79.8 327.3h0M80.9 326.3h0M82.0 325.7h0M83.1 325.4h0M84.1 325.1h0M85.2 324.7h0M86.3 324.6h0M87.4 324.4h0M88.5 323.8h0M89.6 322.8h0M90.7 322.0h0M91.7 321.1h0M92.8 320.9h0M93.9 320.2h0M95.0 319.4h0M96.1 319.0h0M97.2 317.7h0M98.3 316.1h0M99.3 315.4h0M100.4 314.4h0M101.5 313.3h0M102.6 312.8h0M103.7 311.6h0M104.8 310.6h0M105.9 308.7h0M106.9 307.5h0M108.0 306.3h0M109.1 305.4h0M110.2 303.1h0M111.3 301.5h0M112.4 300.3h0M113.5 298.5h0M114.5 297.8h0M115.6 295.6h0M116.7 294.2h0M117.8 291.7h0M118.9 291.3h0M120.0 289.1h0M121.1 286.5h0M122.1 283.3h0M123.2 280.6h0M124.3 278.4h0M125.4 276.3h0M126.5 273.5h0M127.6 271.8h0M128.7 269.1h0M129.8 266.0h0M130.8 263.4h0M131.9 259.7h0M133.0 256.0h0M134.1 253.2h0M135.2 250.8h0M136.3 247.7h0M137.4 244.5h0M138.4 242.1h0M139.5 239.1h0M140.6 236.7h0M141.7 234.7h0M142.8 231.9h0M143.9 229.3h0M145.0 226.9h0M146.0 225.2h0M147.1 224.0h0M148.2 223.9h0M149.3 223.8h0M150.4 224.2h0M151.5 225.9h0M152.6 227.8h0M153.6 231.8h0M154.7 235.5h0M155.8 239.3h0M156.9 243.0h0M158.0 246.5h0M159.1 249.8h0M160.2 252.9h0M161.2 256.1h0M162.3 259.7h0M163.4 263.8h0M164.5 270.0h0M165.6 275.3h0M166.7 279.8h0M167.8 284.2h0M168.8 287.8h0M169.9 291.8h0M171.0 295.3h0M172.1 298.4h0M173.2 302.0h0M174.3 305.8h0M175.4 309.3h0M176.4 312.4h0M177.5 316.1h0M178.6 319.0h0M179.7 322.2h0M180.8 324.8h0M181.9 327.0h0M183.0 329.0h0M184.1 330.5h0M185.1 332.1h0M186.2 333.0h0M187.3 334.0h0M188.4 334.7h0M189.5 335.6h0M190.6 336.7h0M191.7 337.2h0M192.7 336.8h0M193.8 336.4h0M194.9 336.4h0M196.0 335.6h0M197.1 335.5h0M198.2 335.1h0M199.3 334.7h0M200.3 334.9h0M201.4 334.8h0M202.5 334.5h0M203.6 334.5h0M204.7 333.9h0M205.8 333.4h0M206.9 333.3h0M207.9 332.5h0M209.0 331.8h0M210.1 332.0h0M211.2 331.5h0M212.3 331.9h0M213.4 332.1h0M214.5 331.2h0M215.5 330.6h0M216.6 330.1h0M217.7 329.7h0M218.8 329.1h0M219.9 329.0h0M221.0 328.7h0M222.1 327.4h0M223.1 326.4h0M224.2 325.6h0M225.3 324.7h0M226.4 324.1h0M227.5 323.0h0M228.6 322.5h0M229.7 322.2h0M230.7 322.1h0M231.8 321.6h0M232.9 321.0h0M234.0 320.5h0M235.1 320.5h0M236.2 320.1h0M237.3 320.4h0M238.4 320.3h0M239.4 319.8h0M240.5 318.9h0M241.6 318.1h0M242.7 317.4h0M243.8 316.9h0M244.9 317.2h0M246.0 317.8h0M247.0 317.4h0M248.1 317.0h0M249.2 316.0h0M250.3 315.5h0M251.4 315.6h0M252.5 316.1h0M253.6 315.9h0M254.6 316.0h0M255.7 315.9h0M256.8 316.0h0M257.9 316.1h0" stroke="#a5a5a5" stroke-width="1.75" stroke-linecap="round" fill="none"/>
<rect x="40.7" y="206.4" width="217.3" height="132.9" fill="none" stroke="#000" stroke-width="1.2"/>
<path d="M40.70 339.3v2.4M51.57 339.3v2.0M62.43 339.3v2.0M73.30 339.3v2.0M84.16 339.3v2.0M95.03 339.3v2.4M105.89 339.3v2.0M116.76 339.3v2.0M127.62 339.3v2.0M138.49 339.3v2.0M149.35 339.3v2.4M160.22 339.3v2.0M171.08 339.3v2.0M181.94 339.3v2.0M192.81 339.3v2.0M203.68 339.3v2.4M214.54 339.3v2.0M225.41 339.3v2.0M236.27 339.3v2.0M247.13 339.3v2.0M258.00 339.3v2.4M40.7 339.30h2.6M40.7 320.31h2.6M40.7 301.33h2.6M40.7 282.34h2.6M40.7 263.36h2.6M40.7 244.37h2.6M40.7 225.39h2.6M40.7 206.40h2.6" stroke="#000" stroke-width="0.9" fill="none"/>
<text x="40.7" y="353.0" font-size="9.4" text-anchor="middle">65</text>
<text x="95.0" y="353.0" font-size="9.4" text-anchor="middle">60</text>
<text x="149.4" y="353.0" font-size="9.4" text-anchor="middle">55</text>
<text x="203.7" y="353.0" font-size="9.4" text-anchor="middle">50</text>
<text x="258.0" y="353.0" font-size="9.4" text-anchor="middle">45</text>
<text x="33.5" y="342.4" font-size="9.4" text-anchor="end">0</text>
<text x="33.5" y="323.4" font-size="9.4" text-anchor="end">1</text>
<text x="33.5" y="304.4" font-size="9.4" text-anchor="end">2</text>
<text x="33.5" y="285.4" font-size="9.4" text-anchor="end">3</text>
<text x="33.5" y="266.5" font-size="9.4" text-anchor="end">4</text>
<text x="33.5" y="247.5" font-size="9.4" text-anchor="end">5</text>
<text x="33.5" y="228.5" font-size="9.4" text-anchor="end">6</text>
<text x="33.5" y="209.5" font-size="9.4" text-anchor="end">7</text>
<text x="144.2" y="201.6" font-size="10.2" text-anchor="middle">(7) Acetone</text>
<text x="151.6" y="364.6" font-size="10.35" text-anchor="middle">Binding energy / eV</text>
<text transform="translate(13.7 340.4) rotate(-90)" font-size="10.05">Fe3p XPS intensity / 10<tspan font-size="7.0" dy="-3.9" dx="0.3">3</tspan><tspan dy="3.9" dx="0.5"> counts</tspan><tspan dx="1"> s</tspan><tspan font-size="7.0" dy="-3.9" dx="0.7">-</tspan><tspan font-size="7.0" dx="0.5">1</tspan></text>
<circle cx="158.6" cy="221" r="0.75" fill="#5b9bd5"/>
<text x="164.4" y="224.6" font-size="8.7">25°C</text>
<circle cx="190" cy="221" r="0.75" fill="#ed7d31"/>
<text x="196" y="224.6" font-size="8.7">200°C</text>
<circle cx="226.1" cy="221" r="0.75" fill="#a5a5a5"/>
<text x="231.6" y="224.6" font-size="8.7">339°C</text>
</g>
</svg>
</body></html>
